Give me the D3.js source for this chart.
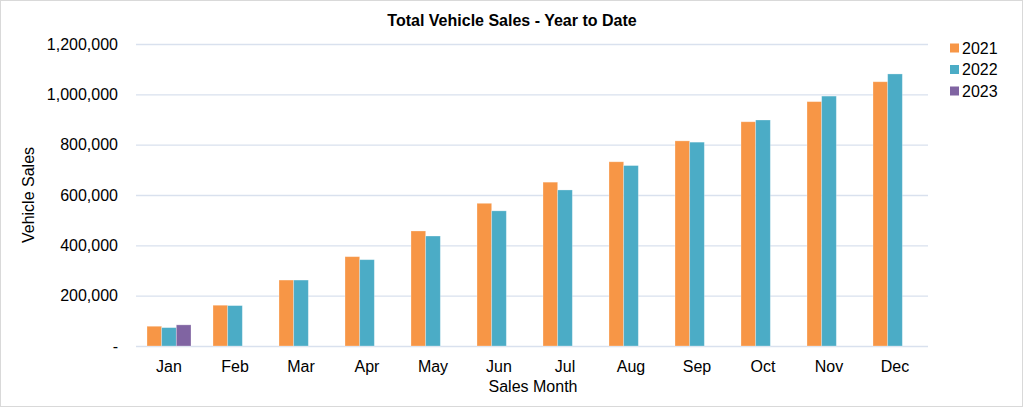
<!DOCTYPE html>
<html>
<head>
<meta charset="utf-8">
<script src="https://cdn.jsdelivr.net/npm/d3@7"></script>
<style>
  body { margin: 0; background: #fff; }
  svg { display: block; font-family: "Liberation Sans", Arial, sans-serif; }
</style>
</head>
<body>
<svg id="chart" width="1024" height="408"></svg>
<script>
// data
var months = ["Jan","Feb","Mar","Apr","May","Jun","Jul","Aug","Sep","Oct","Nov","Dec"];
var years = ["2021","2022","2023"];
var sales2021 = [78500, 162000, 262000, 355000, 457000, 567000, 651000, 732000, 815000, 891000, 971000, 1050000];
var sales2022 = [73000, 160500, 262000, 343000, 437000, 537000, 620000, 717000, 810000, 898000, 993000, 1081000];
var sales2023 = [84000];
var yTicks = [0, 200000, 400000, 600000, 800000, 1000000, 1200000];

var colors = {"2021": "#F79646", "2022": "#4BACC6", "2023": "#8064A2"};
var seriesVals = {"2021": sales2021, "2022": sales2022, "2023": sales2023};

var svg = d3.select("#chart");

// outer frame
svg.append("rect")
    .attr("x", 0.5).attr("y", 0.5)
    .attr("width", 1022).attr("height", 406)
    .attr("fill", "none")
    .attr("stroke", "#d9d9d9");

var xScale = d3.scaleBand().domain(months).range([136, 928])
    .paddingInner(1/3).paddingOuter(1/6);
var xSub = d3.scaleBand().domain(years).range([0, xScale.bandwidth()]);
var yScale = d3.scaleLinear().domain([0, 1200000]).range([346, 44]);

// gridlines
svg.append("g").selectAll("line")
    .data(yTicks)
    .join("line")
    .attr("x1", 136).attr("x2", 928)
    .attr("y1", d => yScale(d) + 0.5).attr("y2", d => yScale(d) + 0.5)
    .attr("stroke", "#D9E1EE")
    .attr("stroke-width", 1.3);

// y labels
var fmt = d3.format(",");
svg.append("g").selectAll("text")
    .data(yTicks)
    .join("text")
    .attr("x", 118)
    .attr("y", d => yScale(d))
    .attr("dy", "0.35em")
    .attr("text-anchor", "end")
    .attr("font-size", 16)
    .attr("fill", "#000")
    .text(d => d === 0 ? "-" : fmt(d));

// bars
var rows = [];
years.forEach(function(yr) {
    seriesVals[yr].forEach(function(v, i) {
        rows.push({year: yr, month: months[i], value: v});
    });
});

svg.append("g").selectAll("rect")
    .data(rows)
    .join("rect")
    .attr("x", d => xScale(d.month) + xSub(d.year))
    .attr("width", xSub.bandwidth())
    .attr("y", d => yScale(d.value))
    .attr("height", d => yScale(0) - yScale(d.value))
    .attr("fill", d => colors[d.year])
    .attr("stroke", "#ffffff")
    .attr("stroke-opacity", 0.35)
    .attr("stroke-width", 0.8);

// x labels
svg.append("g").selectAll("text")
    .data(months)
    .join("text")
    .attr("x", d => xScale(d) + xScale.bandwidth() / 2)
    .attr("y", 372)
    .attr("text-anchor", "middle")
    .attr("font-size", 16)
    .text(d => d);

// titles
svg.append("text")
    .attr("x", 512).attr("y", 26)
    .attr("text-anchor", "middle")
    .attr("font-size", 16)
    .attr("font-weight", "bold")
    .text("Total Vehicle Sales - Year to Date");

svg.append("text")
    .attr("x", 533).attr("y", 392)
    .attr("text-anchor", "middle")
    .attr("font-size", 16)
    .text("Sales Month");

svg.append("text")
    .attr("transform", "translate(34,195) rotate(-90)")
    .attr("text-anchor", "middle")
    .attr("font-size", 16)
    .text("Vehicle Sales");

// legend
var legend = svg.append("g").selectAll("g")
    .data(years)
    .join("g")
    .attr("transform", (d, i) => "translate(950," + (48 + i * 21.5) + ")");
legend.append("rect")
    .attr("x", 0).attr("y", -4.5)
    .attr("width", 9).attr("height", 9)
    .attr("fill", d => colors[d]);
legend.append("text")
    .attr("x", 12).attr("dy", "0.36em")
    .attr("font-size", 16)
    .text(d => d);
</script>
</body>
</html>
